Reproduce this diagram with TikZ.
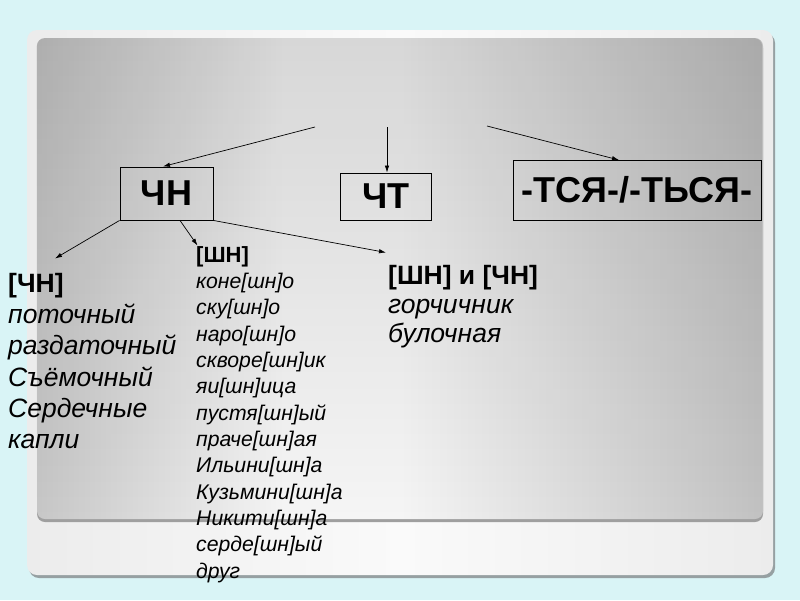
\documentclass[tikz,border=0pt]{standalone}
\usepackage{fontspec}
\setmainfont{Liberation Sans}
\usetikzlibrary{arrows.meta,shadings,fadings}
\definecolor{bgcyan}{RGB}{217,244,246}
\definecolor{frameg}{RGB}{222,222,222}
\definecolor{frameshadow}{RGB}{150,160,162}
\definecolor{pg1}{RGB}{162,162,162}
\definecolor{pg2}{RGB}{185,185,185}
\definecolor{pg3}{RGB}{245,245,245}
\definecolor{pg4}{RGB}{200,200,200}
\definecolor{pg5}{RGB}{158,158,158}
\pgfdeclarehorizontalshading{panelshade}{100bp}{color(0bp)=(pg1); color(20bp)=(pg2); color(42bp)=(pg3); color(50bp)=(pg3); color(72bp)=(pg4); color(90bp)=(pg5); color(100bp)=(pg5)}
\pgfdeclarehorizontalshading{frameshade}{100bp}{color(0bp)=(frameg); color(50bp)=(white!85!frameg); color(100bp)=(frameg)}
\tikzset{
  boxnode/.style={draw=black, line width=0.9pt, inner sep=0pt, font=\bfseries\fontsize{36}{40}\selectfont},
  headtxt/.style={anchor=base west, inner sep=0pt, font=\bfseries\fontsize{26.5}{30}\selectfont},
  bigtxt/.style={anchor=base west, inner sep=0pt, font=\itshape\fontsize{26.5}{30}\selectfont},
  smallhead/.style={anchor=base west, inner sep=0pt, font=\bfseries\fontsize{22}{24}\selectfont},
  smalltxt/.style={anchor=base west, inner sep=0pt, font=\itshape\fontsize{21.2}{24}\selectfont},
  conn/.style={line width=0.7pt, -{Latex[length=7pt,width=4.5pt]}}
}
\begin{document}
\begin{tikzpicture}[x=1pt,y=-1pt]
\useasboundingbox (0,0) rectangle (800,600);
% background
\fill[bgcyan] (0,0) rectangle (800,600);
% outer frame with shadow
\fill[frameshadow, rounded corners=10pt] (29,33) rectangle (775,578);
\shade[shading=frameshade, rounded corners=10pt] (27,30) rectangle (773,575);
% inner panel
\fill[gray!75, rounded corners=8pt] (37,40) rectangle (763,522);
\shade[shading=panelshade, rounded corners=8pt] (37,38) rectangle (763,519);
\fill[black, fill opacity=0.12, path fading=south, rounded corners=8pt] (37,38) rectangle (763,519);
% boxes
\node[boxnode, minimum width=93pt, minimum height=53pt] (chn) at (166.5,193.5) {ЧН};
\node[boxnode, minimum width=91pt, minimum height=47pt] (cht) at (386,196.5) {ЧТ};
\node[boxnode, minimum width=248pt, minimum height=60pt] (tsya) at (637,190) {-ТСЯ-/-ТЬСЯ-};
% top arrow origins
\coordinate (o1) at (315,127);
\coordinate (o2) at (387,127);
\coordinate (o3) at (487,126);
\draw[conn] (o1) -- (163,166.5);
\draw[conn] (o2) -- (cht.north -| o2);
\draw[conn] (o3) -- (619,160);
% left column
\node[headtxt] (lh) at (8,292) {[ЧН]};
\node[bigtxt] (l1) at (8,323) {поточный};
\node[bigtxt] (l2) at (8,354) {раздаточный};
\node[bigtxt] (l3) at (8,386) {Съёмочный};
\node[bigtxt] (l4) at (8,417) {Сердечные};
\node[bigtxt] (l5) at (8,448) {капли};
% middle column
\node[smallhead] (mh) at (196,262) {[ШН]};
\node[smalltxt] (m1) at (196,288.3) {коне[шн]о};
\node[smalltxt] (m2) at (196,314.7) {ску[шн]о};
\node[smalltxt] (m3) at (196,341) {наро[шн]о};
\node[smalltxt] (m4) at (196,367.3) {скворе[шн]ик};
\node[smalltxt] (m5) at (196,393.7) {яи[шн]ица};
\node[smalltxt] (m6) at (196,420) {пустя[шн]ый};
\node[smalltxt] (m7) at (196,446.3) {праче[шн]ая};
\node[smalltxt] (m8) at (196,472.7) {Ильини[шн]а};
\node[smalltxt] (m9) at (196,499) {Кузьмини[шн]а};
\node[smalltxt] (m10) at (196,525.3) {Никити[шн]а};
\node[smalltxt] (m11) at (196,551.7) {серде[шн]ый};
\node[smalltxt] (m12) at (196,578) {друг};
% right column
\node[headtxt] (rh) at (388,284) {[ШН] и [ЧН]};
\node[bigtxt] (r1) at (388,313) {горчичник};
\node[bigtxt] (r2) at (388,342) {булочная};
% arrows from ЧН
\coordinate (e1) at (55,258.5);
\coordinate (e2) at (197.5,245.5);
\coordinate (e3) at (386,252.5);
\draw[conn] (chn.south west) -- (e1);
\draw[conn] ([xshift=13.5pt]chn.south) -- (e2);
\draw[conn] (chn.south east) -- (e3);
\end{tikzpicture}
\end{document}
